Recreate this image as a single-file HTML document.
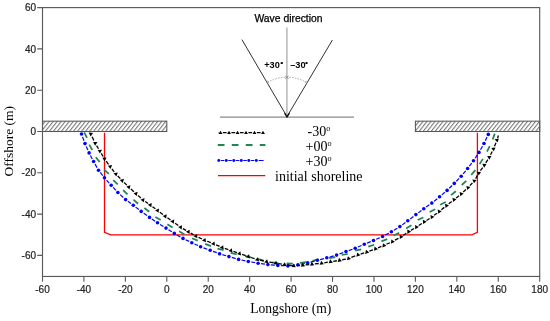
<!DOCTYPE html><html><head><meta charset="utf-8"><style>html,body{margin:0;padding:0;background:#fff;}svg{display:block;}</style></head><body>
<svg width="550" height="321" viewBox="0 0 550 321">
<defs><pattern id="hatch" patternUnits="userSpaceOnUse" width="3.15" height="10" patternTransform="rotate(38.4)"><rect width="3.15" height="10" fill="#fff"/><line x1="0.6" y1="0" x2="0.6" y2="10" stroke="#4a4a4a" stroke-width="0.8"/></pattern></defs>
<rect width="550" height="321" fill="#fff"/>
<rect x="42.5" y="121.17" width="124.3" height="10.33" fill="url(#hatch)" stroke="#555" stroke-width="1.05"/>
<rect x="415.4" y="121.17" width="124.3" height="10.33" fill="url(#hatch)" stroke="#555" stroke-width="1.05"/>
<rect x="42.5" y="7.6" width="497.2" height="268.85" fill="none" stroke="#5a5a5a" stroke-width="1.15"/>
<path d="M42.5 276.45v5.2M83.93 276.45v5.2M125.37 276.45v5.2M166.8 276.45v5.2M208.23 276.45v5.2M249.67 276.45v5.2M291.1 276.45v5.2M332.53 276.45v5.2M373.97 276.45v5.2M415.4 276.45v5.2M456.83 276.45v5.2M498.27 276.45v5.2M539.7 276.45v5.2M42.5 255.4h-5.3M42.5 214.1h-5.3M42.5 172.8h-5.3M42.5 131.5h-5.3M42.5 90.2h-5.3M42.5 48.9h-5.3M42.5 7.6h-5.3" stroke="#5a5a5a" stroke-width="1.1" fill="none"/>
<g font-family="Liberation Sans, Arial, sans-serif" font-size="10" fill="#222" stroke="#222" stroke-width="0.2">
<text x="42.5" y="292.8" text-anchor="middle">-60</text>
<text x="83.93" y="292.8" text-anchor="middle">-40</text>
<text x="125.37" y="292.8" text-anchor="middle">-20</text>
<text x="166.8" y="292.8" text-anchor="middle">0</text>
<text x="208.23" y="292.8" text-anchor="middle">20</text>
<text x="249.67" y="292.8" text-anchor="middle">40</text>
<text x="291.1" y="292.8" text-anchor="middle">60</text>
<text x="332.53" y="292.8" text-anchor="middle">80</text>
<text x="373.97" y="292.8" text-anchor="middle">100</text>
<text x="415.4" y="292.8" text-anchor="middle">120</text>
<text x="456.83" y="292.8" text-anchor="middle">140</text>
<text x="498.27" y="292.8" text-anchor="middle">160</text>
<text x="539.7" y="292.8" text-anchor="middle">180</text>
<text x="36" y="259" text-anchor="end">-60</text>
<text x="36" y="217.7" text-anchor="end">-40</text>
<text x="36" y="176.4" text-anchor="end">-20</text>
<text x="36" y="135.1" text-anchor="end">0</text>
<text x="36" y="93.8" text-anchor="end">20</text>
<text x="36" y="52.5" text-anchor="end">40</text>
<text x="36" y="11.2" text-anchor="end">60</text>
</g>
<g font-family="Liberation Serif, Times New Roman, serif" fill="#000">
<text x="290.8" y="313.3" font-size="13.6" text-anchor="middle">Longshore (m)</text>
<text transform="translate(13.2,141.3) rotate(-90)" font-size="13.5" text-anchor="middle">Offshore (m)</text>
</g>
<path d="M219.9 117.1H354" stroke="#8a8a8a" stroke-width="1.2" fill="none"/>
<path d="M286.9 27.5V116.5" stroke="#aaa" stroke-width="1.3" fill="none"/>
<path d="M241.9 39.6L287 116.6L332.4 40" stroke="#333" stroke-width="1" fill="none"/>
<path d="M284.6 113.2L287 117L289.4 113.2" stroke="#111" stroke-width="1.3" fill="none"/>
<path d="M267.65 82.3A39.3 39.3 0 0 1 306.35 82.3" stroke="#999" stroke-width="0.8" stroke-dasharray="1.6 1.2" fill="none"/>
<g fill="none" stroke="#999" stroke-width="0.6"><circle cx="267.65" cy="82.3" r="1"/><circle cx="306.35" cy="82.3" r="1"/></g>
<path d="M285 75.8L286.9 77.3L285 78.8M288.8 75.8L286.9 77.3L288.8 78.8" stroke="#777" stroke-width="0.6" fill="none"/>
<g font-family="Liberation Sans, Arial, sans-serif" fill="#000">
<text x="254.5" y="21.6" font-size="10.1" textLength="68" lengthAdjust="spacingAndGlyphs" stroke="#000" stroke-width="0.25">Wave direction</text>
<text x="264.2" y="68" font-size="9.2" font-weight="bold">+30</text>
<text x="280.6" y="66.1" font-size="6.2" font-weight="bold" stroke="#000" stroke-width="0.45">°</text>
<text x="290.2" y="68" font-size="9.2" font-weight="bold">–30</text>
<text x="305.3" y="66.1" font-size="6.2" font-weight="bold" stroke="#000" stroke-width="0.45">°</text>
</g>
<path d="M104.5 132.7V232.4L110.8 234.9H471.7L477.4 232.4V132.7" stroke="#ff0000" stroke-width="1.3" fill="none"/>
<path d="M84.19 132.29L87.01 137.81M89.22 144.65L92.28 150.05M95.82 157.17L99.68 162.03M104.21 169.61L108.79 173.79M113.24 180.23L117.76 184.47M123.11 190.01L127.49 194.39M133.43 199.64L138.07 203.76M144.33 208.02L149.27 211.78M155.38 216.93L160.72 220.07M167.37 224.22L172.63 227.48M179.12 231.29L184.48 234.41M192.04 238.25L197.76 240.65M205.22 243.85L210.98 246.15M217.5 248.57L223.5 250.13M230.65 252.86L236.65 254.44M245.06 256.13L251.14 257.37M257.61 258.92L263.59 260.58M272.55 262.29L278.65 263.41M286.6 263.38L292.8 263.72M299.97 262.98L306.13 262.22M312.53 260.83L318.57 259.47M329.15 258.22L335.25 257.08M341.64 255.01L347.76 253.99M355.17 250.59L361.23 249.31M368.23 246.54L374.17 244.76M381.36 241.37L387.14 239.13M393.6 235.49L399.2 232.81M406.09 228.44L411.41 225.26M417.66 220.05L423.34 217.55M429.63 211.94L435.17 209.16M440.2 204.73L445.8 202.07M450.97 195.08L455.83 191.22M461.71 184.99L466.29 180.81M471.25 174.83L475.35 170.17M479.61 164.13L482.89 158.87M486.99 151.73L489.71 146.17M492.67 139.47L494.73 133.63" stroke="#1f8650" stroke-width="1.75" fill="none"/>
<path d="M82.55 136.88L83.95 140.72M86.23 146.39L87.87 150.11M90.45 155.48L92.25 158.92M95.07 164.11L97.03 167.59M100.3 172.48L102.7 175.52M106.51 180.05L109.19 183.05M113.21 187.46L115.89 190.34M120.21 194.63L123.29 197.47M127.91 201.31L130.99 203.59M135.67 207.13L138.83 209.57M143.69 213.2L147.01 215.6M151.9 219.02L155.1 221.18M160.05 224.39L163.45 226.51M168.49 229.69L171.81 231.81M176.91 234.9L180.39 236.9M185.64 239.69L189.16 241.41M194.44 243.93L197.96 245.57M203.48 247.85L207.32 249.25M213.02 251.32L216.78 252.68M222.39 254.57L226.11 255.73M231.81 257.44L235.69 258.56M241.51 260.03L245.39 260.87M251.24 262.01L255.16 262.69M261.04 263.62L264.96 264.18M270.87 264.84L274.83 265.16M280.83 265.55L284.87 265.75M290.9 265.57L294.9 265.13M300.84 264.23L304.76 263.47M310.58 262.12L314.42 261.08M320.15 259.55L323.95 258.55M329.74 256.99L333.66 255.91M339.42 254.05L343.18 252.65M348.76 250.58L352.44 249.22M357.93 247.03L361.57 245.47M367.06 243.16L370.74 241.64M376.23 239.3L379.87 237.7M385.24 235.09L388.76 233.21M393.95 230.24L397.35 228.16M402.27 224.86L405.43 222.54M410.23 218.94L413.47 216.46M418.27 212.86L421.43 210.54M426.2 207.09L429.4 204.81M434.14 201.21L437.26 198.69M441.85 194.88L444.85 192.32M449.26 188.3L452.14 185.5M456.37 181.24L459.13 178.36M463.12 173.89L465.68 170.81M469.37 166.19L471.73 163.11M475.15 158.28L477.35 154.92M480.5 149.73L482.5 146.17M485.29 140.77L487.01 137.13" stroke="#0000ff" stroke-width="1.2" fill="none"/>
<g fill="#0000ff"><circle cx="81.5" cy="134" r="1.8"/><circle cx="85" cy="143.6" r="1.8"/><circle cx="89.1" cy="152.9" r="1.8"/><circle cx="93.6" cy="161.5" r="1.8"/><circle cx="98.5" cy="170.2" r="1.8"/><circle cx="104.5" cy="177.8" r="1.8"/><circle cx="111.2" cy="185.3" r="1.8"/><circle cx="117.9" cy="192.5" r="1.8"/><circle cx="125.6" cy="199.6" r="1.8"/><circle cx="133.3" cy="205.3" r="1.8"/><circle cx="141.2" cy="211.4" r="1.8"/><circle cx="149.5" cy="217.4" r="1.8"/><circle cx="157.5" cy="222.8" r="1.8"/><circle cx="166" cy="228.1" r="1.8"/><circle cx="174.3" cy="233.4" r="1.8"/><circle cx="183" cy="238.4" r="1.8"/><circle cx="191.8" cy="242.7" r="1.8"/><circle cx="200.6" cy="246.8" r="1.8"/><circle cx="210.2" cy="250.3" r="1.8"/><circle cx="219.6" cy="253.7" r="1.8"/><circle cx="228.9" cy="256.6" r="1.8"/><circle cx="238.6" cy="259.4" r="1.8"/><circle cx="248.3" cy="261.5" r="1.8"/><circle cx="258.1" cy="263.2" r="1.8"/><circle cx="267.9" cy="264.6" r="1.8"/><circle cx="277.8" cy="265.4" r="1.8"/><circle cx="287.9" cy="265.9" r="1.8"/><circle cx="297.9" cy="264.8" r="1.8"/><circle cx="307.7" cy="262.9" r="1.8"/><circle cx="317.3" cy="260.3" r="1.8"/><circle cx="326.8" cy="257.8" r="1.8"/><circle cx="336.6" cy="255.1" r="1.8"/><circle cx="346" cy="251.6" r="1.8"/><circle cx="355.2" cy="248.2" r="1.8"/><circle cx="364.3" cy="244.3" r="1.8"/><circle cx="373.5" cy="240.5" r="1.8"/><circle cx="382.6" cy="236.5" r="1.8"/><circle cx="391.4" cy="231.8" r="1.8"/><circle cx="399.9" cy="226.6" r="1.8"/><circle cx="407.8" cy="220.8" r="1.8"/><circle cx="415.9" cy="214.6" r="1.8"/><circle cx="423.8" cy="208.8" r="1.8"/><circle cx="431.8" cy="203.1" r="1.8"/><circle cx="439.6" cy="196.8" r="1.8"/><circle cx="447.1" cy="190.4" r="1.8"/><circle cx="454.3" cy="183.4" r="1.8"/><circle cx="461.2" cy="176.2" r="1.8"/><circle cx="467.6" cy="168.5" r="1.8"/><circle cx="473.5" cy="160.8" r="1.8"/><circle cx="479" cy="152.4" r="1.8"/><circle cx="484" cy="143.5" r="1.8"/><circle cx="488.3" cy="134.4" r="1.8"/></g>
<path d="M90.24 133.02L90.56 133.58M92.12 136.76L93.88 140.44M96.61 145.57L98.49 148.73M101.28 153.41L103.12 156.49M106.21 161.14L108.49 164.26M111.91 168.82L114.19 171.78M117.79 175.98L120.31 178.62M124.18 182.55L126.82 185.15M130.96 189.08L133.84 191.72M138.1 195.59L140.9 198.11M145.19 201.5L148.11 203.5M152.49 206.65L155.41 208.85M159.88 212.21L162.92 214.49M167.48 217.82L170.52 219.98M175.14 223.28L178.26 225.52M182.94 228.58L186.06 230.42M190.68 233.12L193.72 234.88M198.55 237.4L201.95 239M207.2 241.25L210.8 242.65M216.11 244.84L219.59 246.36M224.81 248.43L228.29 249.67M233.48 251.47L236.92 252.63M242.14 254.43L245.66 255.67M251 257.5L254.6 258.7M260.09 260.2L263.81 261M269.36 262.08L273.04 262.72M278.41 263.62L281.89 264.18M287.26 264.99L290.94 265.51M296.43 265.72L300.07 265.48M305.56 264.97L309.24 264.53M314.88 263.9L318.72 263.5M324.3 262.78L327.9 262.22M333.27 261.35L336.83 260.75M342.23 259.76L345.87 259.04M351.42 257.42L355.18 255.98M360.64 254.06L364.16 252.94M369.41 251.11L372.89 249.79M378.02 247.78L381.38 246.42M386.45 244.26L389.85 242.74M394.98 240.19L398.42 238.31M403.28 235.34L406.32 233.26M410.94 230.32L414.06 228.48M418.74 225.54L421.86 223.46M426.51 220.43L429.59 218.47M434.09 215.35L437.01 213.15M441.39 209.73L444.31 207.37M448.75 203.83L451.75 201.47M456.16 197.96L459.04 195.64M463.24 192.04L465.96 189.56M469.89 185.66L472.41 182.94M475.65 178.56L477.45 175.44M480.45 170.73L482.65 167.57M485.8 162.83L487.8 159.67M490.56 154.78L492.24 151.42M494.55 146.23L495.95 142.67M497.6 138.05L498.4 135.45" stroke="#000" stroke-width="1.3" fill="none"/>
<path d="M93.02 132.91L90.63 136.48L88.73 132.62ZM97.38 142.04L95.11 145.68L93.09 141.89ZM102.02 149.83L99.93 153.59L97.73 149.89ZM106.56 157.43L104.65 161.28L102.27 157.7ZM112.18 165.12L110.49 169.07L107.91 165.63ZM117.78 172.39L116.35 176.44L113.55 173.18ZM123.96 178.87L122.82 183.01L119.8 179.94ZM130.5 185.31L129.5 189.48L126.38 186.52ZM137.66 191.87L136.75 196.07L133.57 193.18ZM144.53 198.06L143.91 202.31L140.54 199.65ZM151.74 202.99L151.32 207.27L147.83 204.76ZM159.09 208.52L158.57 212.79L155.13 210.2ZM166.66 214.2L166.2 218.48L162.73 215.94ZM174.24 219.59L173.82 223.86L170.33 221.37ZM181.95 225.13L181.72 229.42L178.12 227.07ZM189.65 229.67L189.63 233.96L185.91 231.79ZM197.14 234.01L197.33 238.3L193.52 236.31ZM205.47 237.93L205.98 242.19L202.03 240.5ZM214.44 241.41L215.01 245.67L211.04 244.03ZM223.11 245.2L223.74 249.45L219.74 247.87ZM231.71 248.26L232.52 252.48L228.46 251.07ZM240.31 251.16L241.13 255.38L237.06 253.98ZM249.1 254.26L249.93 258.48L245.86 257.08ZM257.95 257.21L259.05 261.37L254.9 260.24ZM267.07 259.17L268.47 263.23L264.25 262.41ZM276.21 260.76L277.71 264.79L273.47 264.07ZM284.87 262.16L286.44 266.15L282.19 265.51ZM293.79 263.43L295.8 267.23L291.5 267.06ZM302.57 262.84L305.06 266.34L300.77 266.74ZM311.73 261.74L314.28 265.2L310 265.68ZM321.28 260.75L323.89 264.16L319.63 264.71ZM330.2 259.36L332.92 262.69L328.68 263.37ZM339.05 257.87L341.84 261.14L337.61 261.91ZM347.91 256.13L351.01 259.09L346.89 260.3ZM357.18 252.57L360.44 255.36L356.39 256.79ZM365.99 249.77L369.24 252.57L365.18 253.99ZM374.6 246.5L377.96 249.18L373.95 250.75ZM382.93 243.13L386.37 245.7L382.41 247.39ZM391.3 239.39L394.88 241.76L391.03 243.67ZM399.71 234.79L403.48 236.84L399.82 239.09ZM407.27 229.61L411.08 231.6L407.46 233.91ZM415.08 225.01L418.88 227.01L415.24 229.3ZM422.85 219.83L426.68 221.77L423.08 224.12ZM430.49 214.97L434.38 216.8L430.84 219.25ZM437.68 209.55L441.66 211.16L438.27 213.81ZM444.96 203.67L448.96 205.23L445.6 207.92ZM452.46 197.77L456.46 199.34L453.09 202.01ZM459.59 192.02L463.64 193.45L460.38 196.25ZM466.26 185.94L470.4 187.07L467.35 190.1ZM472.31 179.43L476.58 179.91L474.02 183.37ZM476.71 171.77L481.01 171.96L478.7 175.58ZM482.24 163.83L486.53 164.1L484.15 167.68ZM487.15 156.08L491.44 156.04L489.33 159.79ZM491.24 147.89L495.51 147.44L493.77 151.37ZM494.67 139.17L498.9 138.39L497.45 142.44Z" fill="#000"/>
<path d="M222.9 132.7H226.6M231.4 132.7H235.1M239.9 132.7H243.6M248.4 132.7H252.1M256.9 132.7H260.6M218.7 132.7H219" stroke="#000" stroke-width="1.2"/>
<path d="M218.55 134.07H222.45L220.5 130.75ZM227.05 134.07H230.95L229 130.75ZM235.55 134.07H239.45L237.5 130.75ZM244.05 134.07H247.95L246 130.75ZM252.55 134.07H256.45L254.5 130.75ZM261.05 134.07H264.95L263 130.75Z" fill="#000"/>
<path d="M217.8 145h6.7M231.8 145h6.7M245.8 145h6.7M259.8 145h5.6" stroke="#1f8650" stroke-width="1.8"/>
<path d="M220.8 160.5H224.3M228.3 160.5H231.8M235.8 160.5H239.3M243.3 160.5H246.8M250.8 160.5H254.3M258.6 160.5H263.6" stroke="#0000ff" stroke-width="1.2"/>
<g fill="#0000ff"><circle cx="218.8" cy="160.5" r="1.45"/><circle cx="226.3" cy="160.5" r="1.45"/><circle cx="233.8" cy="160.5" r="1.45"/><circle cx="241.3" cy="160.5" r="1.45"/><circle cx="248.8" cy="160.5" r="1.45"/><circle cx="256.3" cy="160.5" r="1.45"/></g>
<path d="M218 175.6H265.3" stroke="#ff0000" stroke-width="1.3"/>
<g font-family="Liberation Serif, Times New Roman, serif" font-size="14" fill="#000">
<text x="307.6" y="135.5" font-size="14">-30<tspan font-size="8.2" dy="-4.2">o</tspan></text>
<text x="305.6" y="150.6" font-size="14">+00<tspan font-size="8.2" dy="-4.2">o</tspan></text>
<text x="305.6" y="165.6" font-size="14">+30<tspan font-size="8.2" dy="-4.2">o</tspan></text>
<text x="318.8" y="180.5" font-size="14" text-anchor="middle">initial shoreline</text>
</g>
</svg></body></html>
